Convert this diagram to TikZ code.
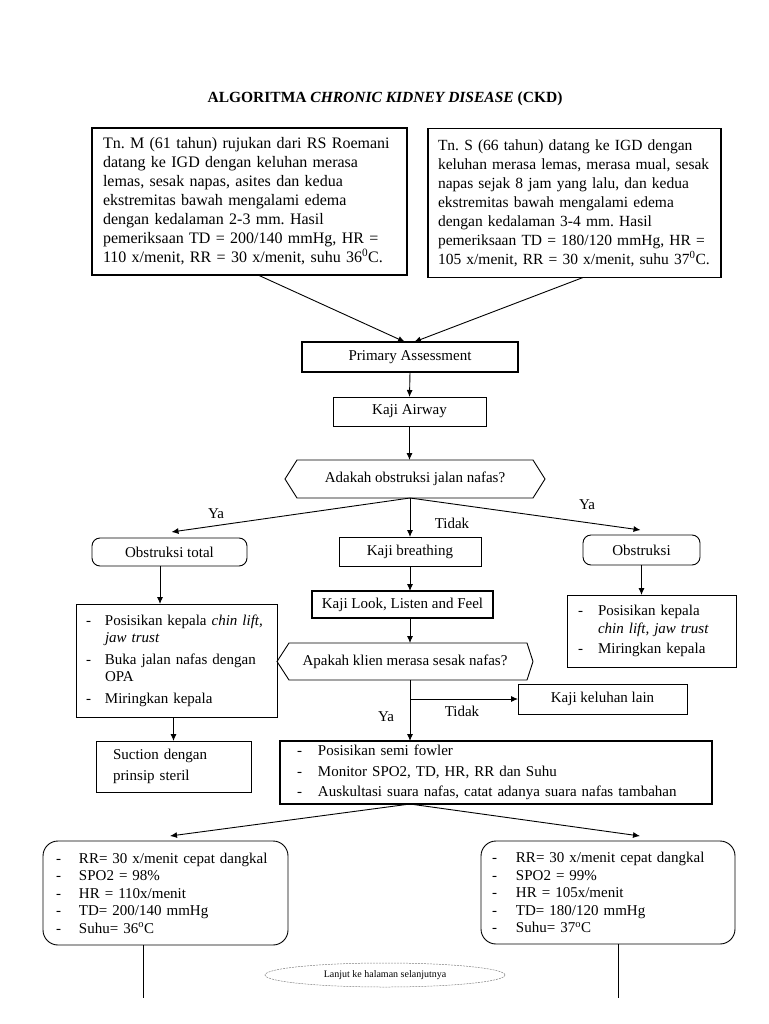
\documentclass[tikz,border=0pt]{standalone}
\usepackage{fontspec}
\setmainfont{Liberation Serif}
\usetikzlibrary{arrows.meta,calc,shapes.geometric}
\frenchspacing
\begin{document}
\begin{tikzpicture}[x=1pt,y=-1pt,
 every node/.style={inner sep=0pt,outer sep=0pt},
 base/.style={draw,line width=0.9pt,font=\fontsize{15}{17.5}\selectfont},
 thickbox/.style={base,line width=1.7pt},
 roundbox/.style={base,rounded corners=8pt},
 arr/.style={-{Latex[length=7pt,width=6pt]},line width=0.9pt},
 lbl/.style={font=\fontsize{15}{17.5}\selectfont},
 hexline/.style={line width=0.9pt},
 casetext/.style={align=left, font=\fontsize{16}{19}\selectfont},
]
\useasboundingbox (0,0) rectangle (768,1024);

\node[font=\fontsize{15.5}{18}\selectfont\bfseries] (title) at (385,99) {ALGORITMA \textit{CHRONIC KIDNEY DISEASE} (CKD)};

\node[thickbox, casetext, minimum width=315pt, minimum height=147pt, text width=293pt] (caseA) at (249.5,201.5)
{\mbox{Tn. M (61 tahun) rujukan dari RS Roemani}\\
\mbox{datang ke IGD dengan keluhan merasa}\\
\mbox{lemas, sesak napas, asites dan kedua}\\
\mbox{ekstremitas bawah mengalami edema}\\
\mbox{dengan kedalaman 2-3 mm. Hasil}\\
\mbox{pemeriksaan TD = 200/140 mmHg, HR =}\\
\mbox{110 x/menit, RR = 30 x/menit, suhu 36\textsuperscript{0}C.}};

\node[thickbox, casetext, font=\fontsize{15.5}{19}\selectfont, minimum width=293pt, minimum height=149pt, text width=273pt] (caseB) at (574.5,203)
{\mbox{Tn. S (66 tahun) datang ke IGD dengan}\\
\mbox{keluhan merasa lemas, merasa mual, sesak}\\
\mbox{napas sejak 8 jam yang lalu, dan kedua}\\
\mbox{ekstremitas bawah mengalami edema}\\
\mbox{dengan kedalaman 3-4 mm. Hasil}\\
\mbox{pemeriksaan TD = 180/120 mmHg, HR =}\\
\mbox{105 x/menit, RR = 30 x/menit, suhu 37\textsuperscript{0}C.}};

\node[thickbox, minimum width=216pt, minimum height=30pt] (prim) at (410,357) {Primary Assessment};
\node[base, minimum width=153pt, minimum height=29pt] (airway) at (409.5,411.5) {Kaji Airway};

\node[lbl, minimum width=260pt, minimum height=38pt] (q1) at (415,479) {Adakah obstruksi jalan nafas?};
\draw[hexline] (q1.west) -- ($(q1.north west)+(12,0)$) -- ($(q1.north east)+(-12,0)$) -- (q1.east) -- ($(q1.south east)+(-12,0)$) -- ($(q1.south west)+(12,0)$) -- cycle;

\coordinate (spine) at (410,0);

\node[roundbox, minimum width=155pt, minimum height=28pt] (otot) at (169.5,552) {Obstruksi total};
\node[base, minimum width=142pt, minimum height=29pt] (breath) at (410,551.5) {Kaji breathing};
\node[roundbox, minimum width=117pt, minimum height=30pt] (obs) at (641.5,550) {Obstruksi};

\node[lbl] (ya1) at (216,514) {Ya};
\node[lbl] (tidak1) at (452,523) {Tidak};
\node[lbl] (ya2) at (587,505) {Ya};

\node[base, minimum width=201pt, minimum height=113pt, text width=181pt, align=left] (listL) at (176.5,660.5)
{\makebox[19pt][l]{-}Posisikan kepala \textit{chin lift,}\\
\hspace*{19pt}\textit{jaw trust}\\[4pt]
\makebox[19pt][l]{-}Buka jalan nafas dengan\\
\hspace*{19pt}OPA\\[4pt]
\makebox[19pt][l]{-}Miringkan kepala};

\node[thickbox, minimum width=181pt, minimum height=27pt] (look) at (402.5,604.5) {Kaji Look, Listen and Feel};

\node[lbl, minimum width=256pt, minimum height=37pt] (q2) at (405,661.5) {Apakah klien merasa sesak nafas?};
\draw[hexline] (q2.west) -- ($(q2.north west)+(12,0)$) -- ($(q2.north east)+(-6,0)$) -- (q2.east) -- ($(q2.south east)+(-6,0)$) -- ($(q2.south west)+(12,0)$) -- cycle;

\node[base, minimum width=169pt, minimum height=30pt] (keluhan) at (602.5,699) {Kaji keluhan lain};

\node[base, minimum width=169pt, minimum height=72pt, text width=147pt, align=left] (listR) at (651.5,631)
{\makebox[20pt][l]{-}Posisikan kepala\\
\hspace*{20pt}\textit{chin lift, jaw trust}\\[2.5pt]
\makebox[20pt][l]{-}Miringkan kepala};

\node[lbl] (tidak2) at (462,711) {Tidak};
\node[lbl] (ya3) at (386,717) {Ya};

\node[base, minimum width=155pt, minimum height=51pt, text width=121pt, align=left, font=\fontsize{15}{21}\selectfont] (suction) at (173.5,766.5)
{Suction dengan\\prinsip steril};

\node[thickbox, minimum width=432pt, minimum height=63pt, text width=398pt, align=left, font=\fontsize{15}{20.5}\selectfont] (big) at (496,772.5)
{\makebox[21pt][l]{-}Posisikan semi fowler\\
\makebox[21pt][l]{-}Monitor SPO2, TD, HR, RR dan Suhu\\
\makebox[21pt][l]{-}\mbox{Auskultasi suara nafas, catat adanya suara nafas tambahan}};

\node[base, rounded corners=15pt, minimum width=245pt, minimum height=104pt, text width=219pt, align=left] (vitL) at (165.5,893)
{\makebox[23pt][l]{-}RR= 30 x/menit cepat dangkal\\
\makebox[23pt][l]{-}SPO2 = 98\%\\
\makebox[23pt][l]{-}HR = 110x/menit\\
\makebox[23pt][l]{-}TD= 200/140 mmHg\\
\makebox[23pt][l]{-}Suhu= 36\textsuperscript{o}C};

\node[base, rounded corners=15pt, minimum width=254pt, minimum height=103pt, text width=232pt, align=left] (vitR) at (608,892.5)
{\makebox[24pt][l]{-}RR= 30 x/menit cepat dangkal\\
\makebox[24pt][l]{-}SPO2 = 99\%\\
\makebox[24pt][l]{-}HR = 105x/menit\\
\makebox[24pt][l]{-}TD= 180/120 mmHg\\
\makebox[24pt][l]{-}Suhu= 37\textsuperscript{o}C};

\node[ellipse, draw=gray, line width=0.5pt, dash pattern=on 2pt off 1pt, minimum width=240pt, minimum height=24pt, font=\fontsize{10}{12}\selectfont] (next) at (385,975) {Lanjut ke halaman selanjutnya};

\coordinate (endL) at (143,998);
\coordinate (endR) at (618,998);

% connectors
\draw[arr] ($(caseA.south)+(8.5,0)$) -- ($(prim.north)+(-5,0)$);
\draw[arr] ($(caseB.south)+(8.5,0)$) -- ($(prim.north)+(4,0)$);
\draw[arr] (prim.south) -- (airway.north);
\draw[arr] (airway.south) -- (airway.south |- q1.north);
\draw[arr] (q1.south -| spine) -- (breath.north);
\draw[arr] (q1.south -| spine) -- ($(otot.north)+(2,-6)$);
\draw[arr] (q1.south -| spine) -- ($(obs.north)+(-1,-5)$);
\draw[arr] ($(otot.south)+(-9.5,0)$) -- ($(listL.north)+(-16.5,0)$);
\draw[arr] (breath.south) -- (breath.south |- look.north);
\draw[arr] (look.south -| spine) -- (q2.north -| spine);
\draw[arr] (q2.south -| spine) -- (big.north -| spine);
\draw[arr] (keluhan.west -| spine) -- (keluhan.west);
\draw[arr] (obs.south) -- (obs.south |- listR.north);
\draw[arr] (suction.north |- listL.south) -- (suction.north);
\draw[arr] (big.south -| spine) -- ($(vitL.north)+(4.5,-5)$);
\draw[arr] (big.south -| spine) -- ($(vitR.north)+(32,-5)$);
\draw[line width=0.7pt] (endL |- vitL.south) -- (endL);
\draw[line width=0.7pt] (endR |- vitR.south) -- (endR);
\end{tikzpicture}
\end{document}
